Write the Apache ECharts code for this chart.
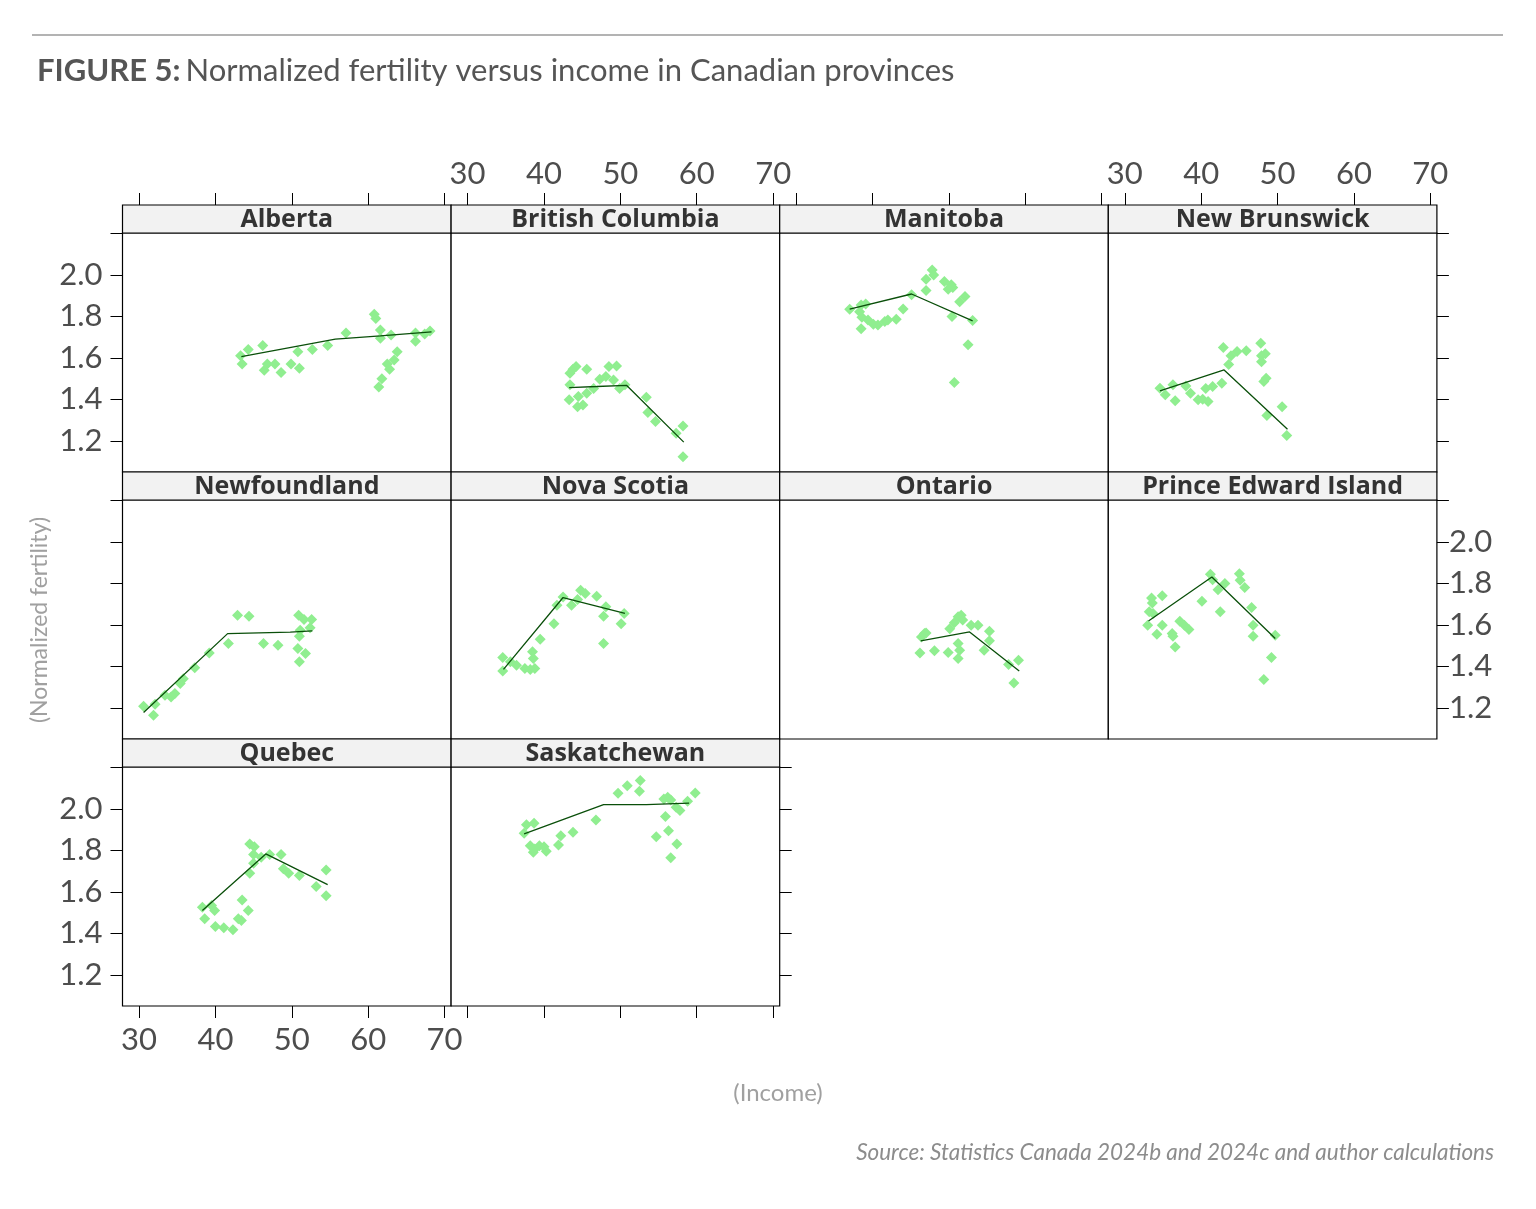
<!DOCTYPE html>
<html>
<head>
<meta charset="utf-8">
<script src="https://cdn.jsdelivr.net/npm/echarts@6/dist/echarts.min.js"></script>
<style>
  html, body { margin: 0; padding: 0; background: #fff; }
  #chart { width: 1536px; height: 1209px; }
</style>
</head>
<body>
<div id="chart"></div>
<script>
// points are [income, normalized fertility], fit lines are the piecewise trend
const albertaPts = [[43.3,1.61],[43.5,1.57],[44.3,1.64],[46.2,1.66],[46.8,1.57],[46.4,1.54],[47.8,1.57],[48.6,1.53],[49.9,1.57],[50.8,1.63],[51.0,1.55],[52.7,1.64],[54.7,1.66],[57.1,1.72],[60.8,1.81],[61.0,1.79],[61.6,1.735],[61.6,1.695],[63.0,1.71],[63.8,1.63],[63.4,1.59],[62.5,1.57],[62.8,1.545],[61.8,1.50],[61.4,1.46],[66.2,1.72],[66.2,1.68],[67.4,1.715],[68.1,1.73]]
const albertaFit = [[43.4,1.606],[55.7,1.69],[61.6,1.706],[68.3,1.725]]

const bcPts = [[43.4,1.526],[43.8,1.545],[44.2,1.558],[45.6,1.545],[43.4,1.47],[43.3,1.398],[44.5,1.414],[44.4,1.365],[45.1,1.373],[45.6,1.43],[46.5,1.452],[47.3,1.497],[48.1,1.51],[48.5,1.558],[49.5,1.561],[49.1,1.494],[49.9,1.452],[50.6,1.47],[53.4,1.41],[53.6,1.337],[54.6,1.293],[57.3,1.237],[58.2,1.272],[58.2,1.124]]
const bcFit = [[43.3,1.457],[46.9,1.462],[50.8,1.468],[58.3,1.194]]

const manitobaPts = [[37.0,1.835],[38.5,1.855],[39.1,1.86],[38.3,1.823],[38.6,1.796],[39.4,1.783],[40.1,1.762],[40.7,1.759],[41.6,1.775],[42.0,1.783],[43.1,1.786],[38.5,1.74],[44.0,1.836],[45.1,1.904],[47.0,1.925],[47.0,1.979],[47.8,2.024],[48.0,2.0],[49.4,1.968],[50.3,1.952],[50.5,1.939],[49.9,1.931],[51.4,1.871],[52.1,1.896],[50.4,1.799],[53.1,1.78],[52.5,1.663],[50.7,1.481]]
const manitobaFit = [[37.0,1.835],[45.1,1.908],[53.1,1.778]]

const nbPts = [[34.6,1.454],[35.3,1.422],[36.3,1.47],[36.6,1.394],[38.0,1.465],[38.6,1.43],[39.6,1.398],[40.2,1.401],[40.9,1.39],[40.6,1.452],[41.5,1.462],[42.7,1.478],[42.9,1.65],[43.6,1.568],[43.9,1.61],[44.7,1.631],[45.9,1.635],[47.8,1.671],[47.9,1.61],[48.4,1.62],[47.9,1.581],[48.5,1.502],[48.2,1.486],[48.6,1.322],[50.6,1.365],[51.2,1.226]]
const nbFit = [[34.6,1.441],[43.0,1.542],[51.3,1.256]]

const nflPts = [[30.6,1.208],[31.9,1.165],[32.1,1.218],[33.4,1.261],[34.2,1.253],[34.7,1.269],[35.4,1.317],[35.8,1.341],[37.3,1.394],[39.2,1.465],[41.7,1.51],[42.9,1.647],[44.4,1.642],[46.3,1.51],[48.2,1.502],[50.9,1.647],[51.6,1.626],[52.6,1.626],[52.4,1.586],[51.1,1.574],[51.0,1.545],[50.8,1.486],[51.8,1.462],[51.0,1.422]]
const nflFit = [[30.6,1.178],[41.6,1.558],[49.8,1.565],[52.7,1.571]]

const nsPts = [[34.6,1.443],[34.6,1.378],[35.6,1.422],[36.4,1.406],[37.5,1.39],[38.2,1.385],[38.8,1.39],[38.6,1.438],[38.5,1.47],[39.5,1.531],[41.3,1.606],[41.7,1.695],[42.5,1.735],[43.6,1.695],[44.4,1.722],[44.8,1.767],[45.4,1.751],[46.9,1.738],[48.1,1.687],[47.8,1.642],[47.8,1.51],[50.1,1.606],[50.5,1.655]]
const nsFit = [[34.7,1.386],[42.5,1.732],[50.6,1.655]]

const ontarioPts = [[46.2,1.465],[46.4,1.542],[46.8,1.558],[47.0,1.561],[48.1,1.475],[49.9,1.467],[50.1,1.582],[50.7,1.61],[51.2,1.639],[51.6,1.647],[51.8,1.623],[51.2,1.51],[51.4,1.478],[51.2,1.438],[52.9,1.598],[53.8,1.598],[55.3,1.569],[55.3,1.523],[54.6,1.478],[57.8,1.409],[59.1,1.43],[58.5,1.32]]
const ontarioFit = [[46.3,1.523],[52.7,1.566],[59.2,1.378]]

const peiPts = [[33.5,1.73],[33.6,1.706],[34.9,1.74],[33.2,1.663],[33.7,1.655],[33.0,1.598],[34.9,1.598],[34.2,1.555],[36.2,1.558],[36.3,1.545],[36.6,1.494],[37.2,1.618],[37.8,1.598],[38.4,1.578],[40.1,1.714],[41.2,1.844],[41.5,1.818],[42.2,1.77],[43.1,1.799],[42.5,1.663],[45.0,1.847],[45.1,1.815],[45.7,1.78],[46.6,1.684],[46.8,1.598],[46.8,1.545],[49.7,1.55],[49.2,1.443],[48.2,1.337]]
const peiFit = [[33.1,1.619],[41.4,1.831],[49.7,1.534]]

const quebecPts = [[38.3,1.526],[39.5,1.534],[39.9,1.51],[38.6,1.47],[40.0,1.433],[41.1,1.427],[42.3,1.418],[43.0,1.47],[43.4,1.462],[44.3,1.51],[43.5,1.561],[44.5,1.69],[44.5,1.831],[45.1,1.818],[45.0,1.78],[45.0,1.738],[46.0,1.767],[47.1,1.78],[48.6,1.78],[48.9,1.711],[49.6,1.69],[51.0,1.679],[53.2,1.626],[54.5,1.706],[54.5,1.582]]
const quebecFit = [[38.3,1.51],[46.6,1.783],[54.7,1.635]]

const saskPts = [[37.4,1.883],[37.7,1.924],[38.7,1.931],[38.2,1.823],[38.8,1.807],[38.6,1.791],[39.4,1.823],[40.3,1.796],[40.0,1.818],[41.9,1.826],[42.2,1.871],[43.8,1.888],[46.8,1.947],[49.7,2.076],[50.9,2.112],[52.6,2.137],[52.5,2.085],[54.7,1.866],[55.7,2.048],[56.2,2.056],[56.6,2.043],[57.3,2.008],[57.8,1.992],[55.9,1.963],[56.3,1.895],[57.4,1.831],[56.6,1.764],[58.8,2.037],[59.8,2.077]]
const saskFit = [[37.4,1.88],[47.8,2.021],[53.4,2.021],[59.0,2.028]]

const provinceNames = ['Alberta', 'British Columbia', 'Manitoba', 'New Brunswick', 'Newfoundland', 'Nova Scotia', 'Ontario', 'Prince Edward Island', 'Quebec', 'Saskatchewan']
const provincePts = [albertaPts, bcPts, manitobaPts, nbPts, nflPts, nsPts, ontarioPts, peiPts, quebecPts, saskPts]
const provinceFit = [albertaFit, bcFit, manitobaFit, nbFit, nflFit, nsFit, ontarioFit, peiFit, quebecFit, saskFit]

const xTicks = [30, 40, 50, 60, 70]
const yTicks = [1.2, 1.4, 1.6, 1.8, 2.0, 2.2]
const yLabels = [1.2, 1.4, 1.6, 1.8, 2.0]

// layout of the lattice
const left0 = 122.5
const colW = 328.6
const top0 = 205
const stripH = 28
const plotH = 239
const rowStep = 267
const xMin = 27.84
const xMax = 70.86
const yMin = 1.05
const yMax = 2.202

const font = 'Lato, "Open Sans", sans-serif'
const stripFont = '"Open Sans", Lato, sans-serif'
const labelColor = '#4d4d4d'
const tickSize = 31

let myChart = echarts.init(document.getElementById('chart'))

const n = provinceNames.length
const grid = []
const xAxis = []
const yAxis = []
const series = []
const graphic = []

// plot grids 0..n-1, strip grids n..2n-1
for (let i = 0; i < n; i++) {
  const row = Math.floor(i / 4)
  const col = i % 4
  grid.push({
    left: left0 + col * colW,
    top: top0 + row * rowStep + stripH,
    width: colW,
    height: plotH,
    show: true,
    borderColor: '#000',
    borderWidth: 1.2,
    backgroundColor: '#fff'
  })
}
for (let i = 0; i < n; i++) {
  const row = Math.floor(i / 4)
  const col = i % 4
  grid.push({
    left: left0 + col * colW,
    top: top0 + row * rowStep,
    width: colW,
    height: stripH,
    show: true,
    borderColor: '#000',
    borderWidth: 1.2,
    backgroundColor: '#f2f2f2'
  })
}

for (let i = 0; i < n; i++) {
  const bottom = (i === 8 || i === 9)
  xAxis.push({
    type: 'value', gridIndex: i, min: xMin, max: xMax, position: 'bottom',
    axisLine: { show: false, onZero: false },
    splitLine: { show: false },
    axisTick: { show: bottom, inside: false, length: 12, lineStyle: { color: '#000' }, customValues: xTicks },
    axisLabel: {
      show: i === 8, margin: 18, color: labelColor, fontSize: tickSize, fontFamily: font,
      customValues: xTicks
    }
  })
}
for (let i = 0; i < n; i++) {
  const row = Math.floor(i / 4)
  const col = i % 4
  xAxis.push({
    type: 'value', gridIndex: n + i, min: xMin, max: xMax, position: 'top',
    axisLine: { show: false, onZero: false },
    splitLine: { show: false },
    axisTick: { show: row === 0, inside: false, length: 12, lineStyle: { color: '#000' }, customValues: xTicks },
    axisLabel: {
      show: row === 0 && (col === 1 || col === 3), margin: 16, color: labelColor,
      fontSize: tickSize, fontFamily: font, customValues: xTicks
    }
  })
}
// left y axes
for (let i = 0; i < n; i++) {
  const row = Math.floor(i / 4)
  const col = i % 4
  yAxis.push({
    type: 'value', gridIndex: i, min: yMin, max: yMax, position: 'left',
    axisLine: { show: false, onZero: false },
    splitLine: { show: false },
    axisTick: { show: col === 0, inside: false, length: 12, lineStyle: { color: '#000' }, customValues: yTicks },
    axisLabel: {
      show: col === 0 && row !== 1, margin: 20, color: labelColor, fontSize: tickSize, fontFamily: font,
      customValues: yLabels, formatter: (v) => v.toFixed(1)
    }
  })
}
// right y axes
for (let i = 0; i < n; i++) {
  const rightmost = (i === 3 || i === 7 || i === 9)
  yAxis.push({
    type: 'value', gridIndex: i, min: yMin, max: yMax, position: 'right',
    axisLine: { show: false, onZero: false },
    splitLine: { show: false },
    axisTick: { show: rightmost, inside: false, length: 12, lineStyle: { color: '#000' }, customValues: yTicks },
    axisLabel: {
      show: i === 7, margin: 12, color: labelColor, fontSize: tickSize, fontFamily: font,
      customValues: yLabels, formatter: (v) => v.toFixed(1)
    }
  })
}
// strip y axes (hidden, kept away from zero so the top axis stays on top)
for (let i = 0; i < n; i++) {
  yAxis.push({ type: 'value', gridIndex: n + i, min: 1, max: 2, show: false })
}

for (let i = 0; i < n; i++) {
  const row = Math.floor(i / 4)
  const col = i % 4
  series.push({
    name: provinceNames[i],
    type: 'scatter',
    xAxisIndex: i,
    yAxisIndex: i,
    symbol: 'diamond',
    symbolSize: 11,
    itemStyle: { color: '#90ee90', opacity: 1 },
    data: provincePts[i]
  })
  series.push({
    name: provinceNames[i] + ' fit',
    type: 'line',
    xAxisIndex: i,
    yAxisIndex: i,
    symbol: 'none',
    lineStyle: { color: '#0a4f0a', width: 1.3 },
    data: provinceFit[i],
    z: 3
  })
  // strip label
  graphic.push({
    type: 'text',
    x: left0 + col * colW + colW / 2,
    y: top0 + row * rowStep + stripH / 2 + 1,
    style: {
      text: provinceNames[i],
      align: 'center',
      verticalAlign: 'middle',
      fill: '#333',
      font: 'bold 25px ' + stripFont
    },
    z: 10
  })
}

// header rule, axis titles and source
graphic.push({
  type: 'line',
  shape: { x1: 32, y1: 35, x2: 1503, y2: 35 },
  style: { stroke: '#9a9a9a', lineWidth: 1.5 }
})
graphic.push({
  type: 'text', x: 40, y: 620, rotation: Math.PI / 2,
  style: {
    text: '(Normalized fertility)', align: 'center', verticalAlign: 'middle',
    fill: '#a0a0a0', font: '23px ' + font
  }
})
graphic.push({
  type: 'text', x: 778, y: 1093,
  style: {
    text: '(Income)', align: 'center', verticalAlign: 'middle',
    fill: '#a0a0a0', font: '24px ' + font
  }
})
graphic.push({
  type: 'text', x: 1494, y: 1153,
  style: {
    text: 'Source: Statistics Canada 2024b and 2024c and author calculations',
    align: 'right', verticalAlign: 'middle',
    fill: '#8c8c8c', font: 'italic 22.5px ' + font
  }
})

myChart.setOption({
  animation: false,
  title: {
    left: 32,
    top: 50,
    text: '{b|FIGURE 5:} {r|Normalized fertility versus income in Canadian provinces}',
    textStyle: {
      rich: {
        b: { fontSize: 31, fontWeight: 'bold', color: '#555', fontFamily: font },
        r: { fontSize: 31, fontWeight: 'normal', color: '#555', fontFamily: font }
      }
    }
  },
  grid: grid,
  xAxis: xAxis,
  yAxis: yAxis,
  series: series,
  graphic: graphic
})
</script>
</body>
</html>
